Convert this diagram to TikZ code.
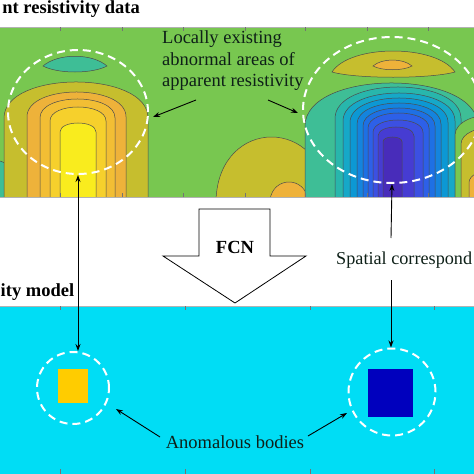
\documentclass[tikz,border=0pt]{standalone}
\usepackage{fontspec}
\setmainfont{Liberation Serif}
\usetikzlibrary{shapes.geometric}
\usetikzlibrary{arrows.meta}
\definecolor{bggreen}{RGB}{120,199,80}
\definecolor{olive}{RGB}{198,190,46}
\definecolor{orangeA}{RGB}{238,178,58}
\definecolor{orangeB}{RGB}{242,190,52}
\definecolor{orangeC}{RGB}{246,208,44}
\definecolor{yellowcore}{RGB}{249,236,30}
\definecolor{teal}{RGB}{62,190,150}
\definecolor{cyanbg}{RGB}{0,221,245}
\definecolor{bodyyellow}{RGB}{255,204,0}
\definecolor{bodyblue}{RGB}{0,0,190}
\definecolor{txtdark}{RGB}{14,32,24}
\definecolor{pA}{RGB}{40,182,172}
\definecolor{pB}{RGB}{22,168,200}
\definecolor{pC}{RGB}{12,152,212}
\definecolor{pD}{RGB}{20,132,222}
\definecolor{pE}{RGB}{30,112,228}
\definecolor{pF}{RGB}{45,96,232}
\definecolor{pG}{RGB}{60,80,226}
\definecolor{pH}{RGB}{70,60,210}
\definecolor{pI}{RGB}{72,44,186}
\tikzset{
    lbl/.style = {font=\fontsize{18.5}{21.5}\selectfont, text=txtdark, inner sep=0pt, align=left},
    hdr/.style = {font=\fontsize{18.5}{21.5}\selectfont\bfseries, text=black, inner sep=0pt},
    ring/.style = {draw=white, line width=2pt, dash pattern=on 8pt off 5pt, inner sep=0pt},
    contour/.style = {draw=black!70, line width=0.5pt},
    link/.style = {-{Stealth[length=7pt,width=5pt]}, line width=0.9pt, black},
    tick/.style = {black!55, line width=0.6pt}
}
% one contour band: left x, right x, top y, colour
\newcommand{\dome}[4]{%
  \pgfmathsetmacro{\hw}{(#2-#1)/2}%
  \filldraw[contour, fill=#4] (#1,200) -- (#1,{#3+0.5*\hw})
    .. controls (#1,{#3-0.167*\hw}) and (#2,{#3-0.167*\hw}) .. (#2,{#3+0.5*\hw})
    -- (#2,200) -- cycle;}
% a low arch: left x, right x, top y, colour
\newcommand{\arch}[4]{%
  \filldraw[contour, fill=#4] (#1,200) .. controls ({#1+3},{(8*#3-400)/6}) and ({#2-3},{(8*#3-400)/6}) .. (#2,200) -- cycle;}

\begin{document}
\begin{tikzpicture}[x=1pt, y=-1pt]
  \useasboundingbox (0,0) rectangle (474,474);

  % apparent resistivity panel
  \begin{scope}
    \clip (0,27) rectangle (474,197);
    \fill[bggreen] (0,27) rectangle (474,197);
    \dome{-25}{8}{160}{teal}
    \foreach \xl/\xr/\t/\c in {4/148/82/olive, 27/126/92/orangeA, 40/115/99/orangeB,
        50/106/107/orangeC, 60/96/123/yellowcore}
      \dome{\xl}{\xr}{\t}{\c};
    \filldraw[contour, fill=teal] (43,66) .. controls (58,53) and (92,53) .. (107,66)
      .. controls (92,74) and (58,74) .. cycle;
    \arch{216}{327}{137}{olive}
    \arch{270}{308}{182}{orangeA}
    \dome{305}{478}{83}{teal}
    \foreach \xl/\xr/\t/\c in {335/461/87/pA, 343/455/93/pB, 350/448/98/pC, 357/441/103/pD,
        363/435/108/pE, 368/429/113/pF, 373/423/120/pG, 378/414/127/pH, 383/402/137/pI}
      \dome{\xl}{\xr}{\t}{\c};
    \dome{455}{540}{114}{bggreen}
    \dome{461}{530}{127}{olive}
    \dome{469}{520}{170}{orangeA}
    \filldraw[contour, fill=olive] (332,72) .. controls (350,44) and (436,44) .. (455,72)
      .. controls (430,79) and (356,79) .. cycle;
    \filldraw[contour, fill=orangeA] (373,66) .. controls (382,58) and (403,58) .. (412,66)
      .. controls (403,71) and (382,71) .. cycle;
  \end{scope}
  \draw[gray!60, line width=0.8pt] (0,27) -- (474,27);
  \draw[gray!60, line width=0.8pt] (0,197) -- (474,197);
  \foreach \x in {60,122,183,245,305,367,428} {
    \draw[tick] (\x,27) -- (\x,31);
    \draw[tick] (\x,197) -- (\x,193);
  }

  % resistivity model panel
  \fill[cyanbg] (0,306) rectangle (474,474);
  \draw[gray!60, line width=0.8pt] (0,306) -- (474,306);
  \foreach \x in {60,185,310,434} {
    \draw[tick] (\x,306) -- (\x,310);
    \draw[tick] (\x,474) -- (\x,469);
  }
  \fill[bodyyellow] (58,369) rectangle (88,403);
  \fill[bodyblue] (368,369) rectangle (413,417);

  % titles and labels
  \node[hdr, anchor=base east] (title1) at (140,13) {nt resistivity data};
  \node[hdr, anchor=base west] (title2) at (0.5,296) {ity model};
  \node[lbl, anchor=west] (local) at (162,61) {Locally existing\\abnormal areas of\\apparent resistivity};
  \node[lbl, anchor=base west, font=\fontsize{18.2}{21}\selectfont] (spatial) at (336,264) {Spatial correspond};
  \node[lbl, anchor=base] (anom) at (235,448) {Anomalous bodies};

  % dashed rings
  \node[ring, ellipse, minimum width=140pt, minimum height=124pt] (ltop) at (78,112) {};
  \node[ring, ellipse, minimum width=178pt, minimum height=146pt] (rtop) at (392,110) {};
  \node[ring, circle, minimum size=72pt] (lbot) at (73,388) {};
  \node[ring, circle, minimum size=87pt] (rbot) at (392,392) {};

  % FCN arrow
  \draw[line width=0.8pt, fill=white] (199,209) -- (270,209) -- (270,256) -- (306,256)
    -- (235,303) -- (163,256) -- (199,256) -- cycle;
  \node[hdr, anchor=base] (fcn) at (235,253) {FCN};

  % connectors
  \coordinate (la) at (153,117);
  \coordinate (ra) at (298,113);
  \draw[link] (196,100) -- (la);
  \draw[link] (268,100) -- (ra);
  \draw[link, {Stealth[length=7pt,width=5pt]}-{Stealth[length=7pt,width=5pt]}] (ltop.south) -- (ltop.south |- lbot.north);
  \coordinate (rcut1) at (391,238);
  \coordinate (rcut2) at (391,280);
  \draw[link] (rcut1) -- (rtop.south);
  \draw[link] (rcut2) -- (rcut2 |- rbot.north);
  \coordinate (lb) at (116,409);
  \coordinate (rb) at (347,413);
  \draw[link] (160,437) -- (lb);
  \draw[link] (308,436) -- (rb);
\end{tikzpicture}
\end{document}
